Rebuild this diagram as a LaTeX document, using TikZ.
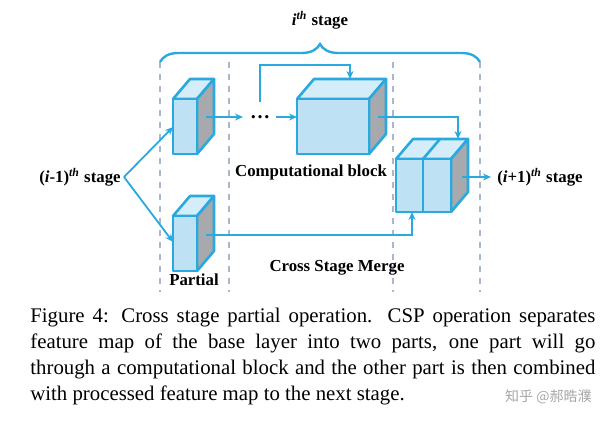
\documentclass[tikz,border=0pt]{standalone}
\usepackage{fontspec}
\setmainfont{Liberation Serif}
\newfontfamily\cjk{Noto Sans CJK SC}
\usetikzlibrary{arrows.meta,decorations.pathreplacing}
\definecolor{ln}{HTML}{29A9DF}
\definecolor{fr}{HTML}{BFE1F4}
\definecolor{tp}{HTML}{D5EDF9}
\definecolor{sd}{HTML}{A7A9AC}
\definecolor{ds}{HTML}{AAB6CC}
\newcommand\mycube[4]{% x y(top) w h
  \filldraw[cub,fill=tp] (#1,#2) -- ++(17,-20) -- ++(#3,0) -- ++(-17,20) -- cycle;
  \filldraw[cub,fill=sd] (#1+#3,#2) -- ++(17,-20) -- ++(0,#4) -- ++(-17,20) -- cycle;
  \filldraw[cub,fill=fr] (#1,#2) rectangle ++(#3,#4);}
\begin{document}
\begin{tikzpicture}[x=0.5pt,y=-0.5pt,
  cub/.style={draw=ln,line width=1.3pt,line join=round},
  con/.style={draw=ln,line width=0.9pt,-{Stealth[length=4pt,width=3.5pt]}},
  lab/.style={font=\fontsize{8.4}{9}\selectfont\bfseries,inner sep=0pt},
  dsh/.style={draw=ds,dashed,line width=0.8pt}]
\useasboundingbox (0,0) rectangle (600,424);
% dashed
\foreach \x in {160,229,393,480} \draw[dsh] (\x,62) -- (\x,292);
% brace
\draw[ln,line width=1.2pt,decorate,decoration={brace,amplitude=9pt}] (160,62) -- (480,62);
\node[lab] (ist) at (320,20) {\textit{i\textsuperscript{th}} stage};
% cubes
\mycube{173}{99}{24}{55}
\mycube{173}{216}{24}{55}
\mycube{297}{99}{72}{55}
\filldraw[cub,fill=tp] (396,159) -- ++(17,-20) -- ++(55,0) -- ++(-17,20) -- cycle;
\draw[cub] (423,159) -- ++(17,-20);
\filldraw[cub,fill=sd] (451,159) -- ++(17,-20) -- ++(0,53) -- ++(-17,20) -- cycle;
\filldraw[cub,fill=fr] (396,159) rectangle (451,212);
\draw[cub] (423,159) -- (423,212);
% coordinates
\coordinate (c1) at (206,117);
\coordinate (c2) at (206,235);
\coordinate (d1) at (243,117);
\coordinate (d2) at (276,117);
\coordinate (b1) at (297,117);
\coordinate (u1) at (260,102);
\coordinate (b2) at (378,117);
\coordinate (m1) at (412,212);
\coordinate (m2) at (458,139);
\coordinate (mo) at (462,177);
\coordinate (out) at (491,177);
\coordinate (in) at (124,177);
\coordinate (t1) at (173,127);
\coordinate (t2) at (173,242);
\node[lab] (im1) at (80,177) {(\textit{i}-1)\textsuperscript{\textit{th}} stage};
\node[lab] (ip1) at (540,177) {(\textit{i}+1)\textsuperscript{\textit{th}} stage};
\node[lab] (cb) at (311,172) {Computational block};
\node[lab] (pa) at (194,280) {Partial};
\node[lab] (csm) at (337,268) {Cross Stage Merge};
\node[inner sep=0pt,font=\bfseries] (dots) at (260,117) {\dots};
% connectors
\draw[con] (in) -- (t1);
\draw[con] (in) -- (t2);
\draw[con] (c1) -- (d1);
\draw[con] (d2) -- (b1);
\draw[con] (u1) |- (350,65) -- (350,79);
\draw[con] (b2) -| (m2);
\draw[con] (c2) -| (m1);
\draw[con] (mo) -- (out);
% caption
\node[anchor=north west,inner sep=0pt,text width=282.5pt,align=justify,
  font=\fontsize{10.4}{13}\selectfont] (cap) at (30,308)
  {\hyphenpenalty=10000 Figure 4: Cross stage partial operation. CSP operation separates\linebreak feature map of the base layer into two parts, one part will go\linebreak through a computational block and the other part is then combined\linebreak with processed feature map to the next stage.};
\node[anchor=east,inner sep=0pt,text=gray!70,font=\cjk\fontsize{7}{8}\selectfont] (wm) at (592,397) {知乎 @郝晧濮};
\end{tikzpicture}
\end{document}
